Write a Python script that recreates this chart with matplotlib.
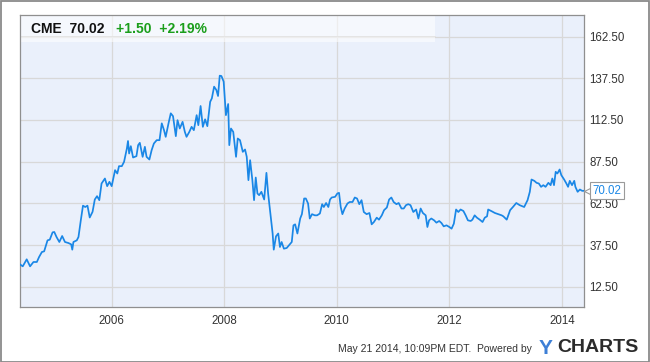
import matplotlib
matplotlib.use("Agg")
import matplotlib.pyplot as plt
from matplotlib.patches import Rectangle
from matplotlib.transforms import offset_copy

plt.rcParams['font.family'] = ['Liberation Sans', 'DejaVu Sans']

# ---- data (decimal year, price) ----
dates = [
    2004.37, 2004.42, 2004.49, 2004.55, 2004.61, 2004.67, 2004.71, 2004.76, 2004.80, 2004.86,
    2004.90, 2004.95, 2004.98, 2005.02, 2005.07, 2005.12, 2005.17, 2005.23, 2005.28, 2005.30,
    2005.32, 2005.38, 2005.41, 2005.45, 2005.49, 2005.53, 2005.57, 2005.61, 2005.66, 2005.70,
    2005.74, 2005.78, 2005.82, 2005.88, 2005.92, 2005.96, 2006.00, 2006.06, 2006.10, 2006.13,
    2006.18, 2006.22, 2006.27, 2006.29, 2006.31, 2006.34, 2006.38, 2006.44, 2006.47, 2006.50,
    2006.55, 2006.59, 2006.62, 2006.67, 2006.71, 2006.75, 2006.80, 2006.85, 2006.89, 2006.93,
    2006.96, 2007.01, 2007.05, 2007.09, 2007.14, 2007.17, 2007.21, 2007.26, 2007.30, 2007.33,
    2007.38, 2007.42, 2007.46, 2007.51, 2007.54, 2007.58, 2007.62, 2007.66, 2007.70, 2007.75,
    2007.78, 2007.82, 2007.86, 2007.89, 2007.92, 2007.95, 2007.99, 2008.03, 2008.07, 2008.09,
    2008.12, 2008.16, 2008.21, 2008.24, 2008.28, 2008.33, 2008.37, 2008.40, 2008.43, 2008.46,
    2008.50, 2008.53, 2008.56, 2008.59, 2008.62, 2008.66, 2008.71, 2008.75, 2008.78, 2008.82,
    2008.86, 2008.88, 2008.92, 2008.96, 2008.99, 2009.02, 2009.06, 2009.11, 2009.15, 2009.20,
    2009.23, 2009.26, 2009.30, 2009.35, 2009.38, 2009.42, 2009.45, 2009.49, 2009.52, 2009.56,
    2009.61, 2009.65, 2009.70, 2009.74, 2009.77, 2009.81, 2009.85, 2009.88, 2009.91, 2009.97,
    2010.01, 2010.04, 2010.07, 2010.10, 2010.14, 2010.19, 2010.23, 2010.28, 2010.32, 2010.36,
    2010.40, 2010.44, 2010.48, 2010.53, 2010.58, 2010.62, 2010.66, 2010.71, 2010.75, 2010.80,
    2010.84, 2010.89, 2010.93, 2010.97, 2011.01, 2011.06, 2011.10, 2011.15, 2011.19, 2011.23,
    2011.27, 2011.31, 2011.36, 2011.41, 2011.45, 2011.49, 2011.53, 2011.58, 2011.61, 2011.64,
    2011.68, 2011.73, 2011.77, 2011.82, 2011.86, 2011.90, 2011.95, 2012.00, 2012.04, 2012.08,
    2012.12, 2012.16, 2012.20, 2012.25, 2012.29, 2012.33, 2012.38, 2012.41, 2012.45, 2012.49,
    2012.54, 2012.59, 2012.63, 2012.67, 2012.69, 2012.75, 2012.81, 2012.87, 2012.93, 2012.96,
    2013.02, 2013.08, 2013.13, 2013.19, 2013.25, 2013.33, 2013.39, 2013.43, 2013.46, 2013.51,
    2013.55, 2013.59, 2013.63, 2013.67, 2013.71, 2013.76, 2013.80, 2013.83, 2013.86, 2013.89,
    2013.92, 2013.96, 2013.99, 2014.04, 2014.08, 2014.11, 2014.14, 2014.18, 2014.22, 2014.24,
    2014.28, 2014.32, 2014.36, 2014.39,
]
prices = [
    25.9, 24.7, 28.9, 24.7, 27.3, 27.3, 30.3, 33.3, 33.7, 40.3,
    40.7, 45.1, 45.3, 42.3, 39.3, 42.9, 39.3, 38.7, 37.9, 34.7,
    39.3, 40.3, 42.3, 52.0, 61.1, 60.3, 61.1, 54.0, 57.4, 64.8,
    66.8, 64.4, 74.4, 77.4, 72.8, 75.4, 72.8, 82.4, 80.4, 84.8,
    84.8, 87.4, 95.4, 99.9, 92.4, 96.8, 90.0, 90.8, 97.4, 98.8,
    90.4, 96.4, 90.4, 88.8, 94.4, 98.4, 100.4, 100.4, 110.5, 106.4,
    102.4, 110.5, 116.5, 114.8, 102.8, 112.4, 107.4, 111.4, 105.4, 102.4,
    105.4, 108.4, 106.4, 115.4, 109.4, 120.9, 108.4, 112.9, 108.8, 123.4,
    125.5, 132.5, 130.5, 126.9, 139.1, 138.9, 135.5, 115.4, 122.1, 97.4,
    107.4, 105.4, 90.4, 101.4, 100.4, 93.4, 94.8, 90.4, 76.4, 88.4,
    76.4, 64.4, 78.0, 68.4, 67.4, 69.4, 64.8, 80.8, 68.4, 56.4,
    44.4, 34.7, 42.7, 44.4, 36.3, 39.3, 35.3, 35.7, 37.3, 39.3,
    49.3, 49.9, 44.4, 53.4, 56.0, 65.4, 65.4, 62.4, 53.4, 56.0,
    55.3, 55.3, 56.4, 62.0, 60.3, 62.7, 60.3, 64.8, 66.0, 66.4,
    68.4, 68.8, 60.3, 56.0, 59.4, 62.4, 63.3, 63.3, 66.0, 65.4,
    62.0, 64.4, 57.3, 56.0, 56.7, 49.9, 51.3, 53.9, 52.7, 55.3,
    58.4, 60.0, 64.8, 66.0, 63.3, 62.0, 62.7, 59.4, 59.4, 61.4,
    62.0, 61.4, 57.3, 58.8, 53.4, 59.4, 56.7, 55.3, 48.3, 52.3,
    53.4, 52.3, 50.9, 51.9, 50.7, 48.7, 49.3, 48.3, 47.3, 50.3,
    58.8, 57.3, 58.8, 57.9, 55.3, 52.3, 51.9, 52.7, 55.3, 53.9,
    52.7, 51.3, 53.9, 54.7, 58.8, 57.8, 56.7, 56.0, 55.3, 54.7,
    52.7, 58.4, 60.3, 62.7, 61.4, 60.3, 64.4, 69.4, 76.8, 76.0,
    74.8, 74.4, 72.4, 73.4, 72.4, 74.8, 73.4, 77.4, 73.4, 81.4,
    80.4, 82.8, 79.4, 76.8, 74.4, 72.4, 76.0, 73.4, 76.0, 72.4,
    69.4, 70.8, 70.0, 70.02,
]
ticker = "CME"
last_price = "70.02"
change = "+1.50"
change_pct = "+2.19%"
y_ticks = [12.5, 37.5, 62.5, 87.5, 112.5, 137.5, 162.5]
x_ticks = [2006, 2008, 2010, 2012, 2014]
footer = "May 21 2014, 10:09PM EDT.  Powered by"
brand = "CHARTS"

W, H = 650, 362
fig = plt.figure(figsize=(W / 100, H / 100), dpi=100)
fig.patch.set_facecolor('white')

ax_l, ax_r, ax_t, ax_b = 19.5, 584, 15, 307
ax = fig.add_axes([ax_l / W, 1 - ax_b / H, (ax_r - ax_l) / W, (ax_b - ax_t) / H])
ax.set_facecolor('#eaf0fb')

line_color = '#1a87e6'
ax.plot(dates, prices, color=line_color, lw=1.25, zorder=3, solid_joinstyle='round')

ax.set_xlim(2004.362, 2014.393)
ax.set_ylim(0.3, 175.5)

ax.set_yticks(y_ticks)
ax.set_yticklabels([f"{v:.2f}" for v in y_ticks])
ax.set_xticks(x_ticks)
ax.set_xticklabels([str(v) for v in x_ticks])
ax.yaxis.tick_right()
ax.tick_params(axis='both', length=0, labelsize=8.3, labelcolor='#333333')
ax.tick_params(axis='y', pad=4)
ax.tick_params(axis='x', pad=5.5)
ax.grid(True, color='#d8d8d8', lw=0.9, zorder=1)
ax.set_axisbelow(True)
for s in ax.spines.values():
    s.set_color('#8f8f8f')
    s.set_linewidth(0.9)

# header band
hdr_right = 435
ax.add_patch(Rectangle(((0), (ax_b - 42) / (ax_b - ax_t)), (hdr_right - ax_l) / (ax_r - ax_l),
                       (42 - ax_t) / (ax_b - ax_t), transform=ax.transAxes,
                       facecolor='white', alpha=0.55, edgecolor='none', zorder=2))
ax.plot([0, (hdr_right - ax_l) / (ax_r - ax_l)], [(ax_b - 36) / (ax_b - ax_t)] * 2,
        transform=ax.transAxes, color='#e4e4e4', lw=0.7, zorder=2)

fig.text(30.7 / W, 1 - 33.3 / H, f"{ticker}  {last_price}", fontsize=10, fontweight='bold',
         color='#111111', va='baseline', ha='left')
fig.text(115.7 / W, 1 - 33.3 / H, f"{change}  {change_pct}", fontsize=10, fontweight='bold',
         color='#1b9e1b', va='baseline', ha='left')

# last value label
tr = offset_copy(ax.transData, fig=fig, x=9, y=0, units='dots')
ax.text(dates[-1], prices[-1], f"{prices[-1]:.2f}", transform=tr, fontsize=8.3,
        color=line_color, ha='left', va='center', clip_on=False, zorder=5,
        bbox=dict(boxstyle='square,pad=0.22', facecolor='white', edgecolor='#9a9a9a', lw=0.8))
tr2 = offset_copy(ax.transData, fig=fig, x=4, y=0, units='dots')
ax.plot([dates[-1]], [prices[-1]], marker='<', ms=5.5, mfc='white', mec='#9a9a9a', mew=0.8,
        transform=tr2, clip_on=False, zorder=4)

# footer
fig.text(532 / W, 1 - 349 / H, footer, fontsize=7.5, color='#333333', ha='right', va='center')
fig.text(539 / W, 1 - 348 / H, "Y", fontsize=15, fontweight='bold', color='#3d7fd6',
         ha='left', va='center')
fig.text(557 / W, 1 - 348 / H, brand, fontsize=14, fontweight='bold',
         color='#2b2b2b', ha='left', va='center')

# outer border
fig.add_artist(Rectangle((0.5 / W, 0.5 / H), 1 - 1.5 / W, 1 - 1.5 / H, transform=fig.transFigure,
                         facecolor='none', edgecolor='#8a8a8a', lw=1.3))

fig.savefig('out.png', dpi=100)
